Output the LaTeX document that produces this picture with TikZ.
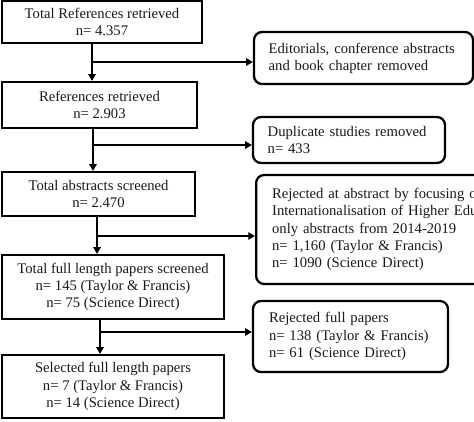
\documentclass[tikz,border=0pt]{standalone}
\usepackage{fontspec}
\setmainfont{Liberation Serif}
\usetikzlibrary{arrows.meta}
\begin{document}
\begin{tikzpicture}[x=0.75pt,y=-0.75pt,
  sqbox/.style={draw=black, line width=1.7pt, align=center, inner sep=0pt,
    font=\fontsize{11}{12.9}\selectfont, text=black!90},
  rbox/.style={draw=black, line width=1.7pt, rounded corners=6pt, align=left,
    inner xsep=11pt, inner ysep=0pt, font=\fontsize{11}{12.9}\selectfont, text=black!90},
  link/.style={line width=1.7pt, -{Triangle[length=5pt,width=5.5pt]}}]
\useasboundingbox (0,0) rectangle (474,421);
\clip (0,0) rectangle (474,421);
% left column
\node[sqbox, minimum width=150pt, minimum height=31.5pt] (b1) at (102,22)
  {Total References retrieved\\ n= 4.357};
\node[sqbox, minimum width=146.25pt, minimum height=34.5pt] (b3) at (99.5,105)
  {References retrieved\\ n= 2.903};
\node[sqbox, minimum width=144.75pt, minimum height=33pt] (b4) at (98.5,194)
  {Total abstracts screened\\ n= 2.470};
\node[sqbox, minimum width=166.5pt, minimum height=48pt] (b6) at (113,287)
  {Total full length papers screened\\ n= 145 (Taylor \& Francis)\\ n= 75 (Science Direct)};
\node[sqbox, minimum width=166.5pt, minimum height=47.25pt] (b7) at (113,386.5)
  {Selected full length papers\\ n= 7 (Taylor \& Francis)\\ n= 14 (Science Direct)};
% right column
\node[rbox, text width=142.25pt, minimum height=39pt] (b2) at (363.5,58)
  {Editorials, conference abstracts\\ and book chapter removed};
\node[rbox, text width=122pt, minimum height=34.5pt] (b2b) at (349,140)
  {Duplicate studies removed\\ n= 433};
\node[rbox, anchor=west, inner xsep=12pt, text width=200pt, minimum height=81.75pt] (b5) at (255,229.5)
  {Rejected at abstract by focusing on\\ Internationalisation of Higher Education\\ only abstracts from 2014-2019\\ n= 1,160 (Taylor \& Francis)\\ n= 1090 (Science Direct)};
\node[rbox, inner xsep=12pt, text width=122.25pt, minimum height=53.25pt] (b8) at (350.5,336.5)
  {Rejected full papers\\ n= 138 (Taylor \& Francis)\\ n= 61 (Science Direct)};
% junctions
\coordinate (j1) at (92,62);
\coordinate (j2) at (93,145);
\coordinate (j3) at (97,236);
\coordinate (j4) at (100,332);
\draw[link] (b1.south -| j1) -- (b3.north -| j1);
\draw[link] (j1) -- (b2.west |- j1);
\draw[link] (b3.south -| j2) -- (b4.north -| j2);
\draw[link] (j2) -- (b2b.west |- j2);
\draw[link] (b4.south -| j3) -- (b6.north -| j3);
\draw[link] (j3) -- (b5.west |- j3);
\draw[link] (b6.south -| j4) -- (b7.north -| j4);
\draw[link] (j4) -- (b8.west |- j4);
\end{tikzpicture}
\end{document}
